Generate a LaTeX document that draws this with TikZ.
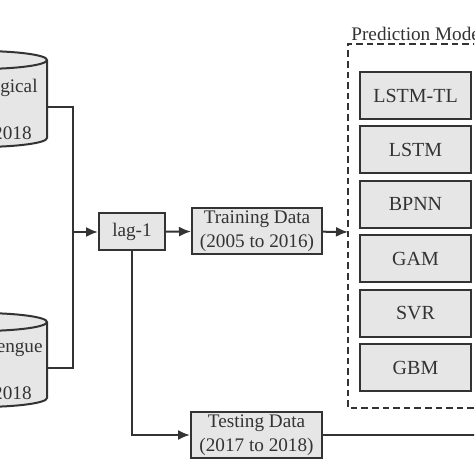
\documentclass[tikz,border=0pt]{standalone}
\usepackage{fontspec}
\setmainfont{Liberation Serif}
\usetikzlibrary{arrows.meta}
\definecolor{boxgray}{HTML}{E6E6E6}
\definecolor{linegray}{HTML}{333333}
\tikzset{
  datbox/.style={draw=linegray, fill=boxgray, line width=1pt, align=center, inner sep=0pt},
  modbox/.style={datbox, minimum width=55.5pt, minimum height=23.5pt, font=\fontsize{10}{12}\selectfont},
  conn/.style={draw=linegray, line width=1pt},
  cut/.style={inner sep=0pt, anchor=base east},
}
\begin{document}
\begin{tikzpicture}[x=0.5pt, y=0.5pt, >={Latex[length=6pt,width=5pt]},
  font=\fontsize{9.6}{12}\selectfont, text=black!80]
\useasboundingbox (0,0) rectangle (474,474);
\clip (0,0) rectangle (474,474);

\draw[conn, fill=boxgray] (-87,414) -- (-87,336) arc (180:360:67 and 9) -- (47,414) arc (0:360:67 and 9);
\draw[conn, fill=boxgray] (-87,152) -- (-87,76) arc (180:360:67 and 9) -- (47,152) arc (0:360:67 and 9);
\node[cut] (met1) at (38,381) {gical};
\node[cut] (met2) at (32,334) {2018};
\node[cut] (den1) at (43,121) {engue};
\node[cut] (den2) at (32,74) {2018};

\coordinate (met) at (47,367);
\coordinate (den) at (47,106);
\coordinate (join) at (73,242);

\node[datbox, minimum width=33pt, minimum height=18.5pt] (lag) at (132,242) {lag-1};
\node[datbox, minimum width=65pt, minimum height=23pt] (train) at (257,243) {Training Data\\(2005 to 2016)};
\node[datbox, minimum width=65.5pt, minimum height=23pt] (test) at (256.5,39) {Testing Data\\(2017 to 2018)};

\draw[conn, dashed, dash pattern=on 3.3pt off 2pt] (490,430) -- (348,430) -- (348,66) -- (490,66);
\node[inner sep=0pt, anchor=base west] (pmtitle) at (351,433) {Prediction Mode};
\coordinate (pm) at (348,242);
\coordinate (out) at (480,39);

\foreach \t [count=\i] in {LSTM-TL,LSTM,BPNN,GAM,SVR,GBM}
{
\node[modbox] (m\i) at (415.5,{378.5-54.4*(\i-1)}) {\t};
}

\draw[conn] (met) -| (join);
\draw[conn] (den) -| (join);
\draw[conn, ->] (join) -- (lag);
\draw[conn, ->] (lag) -- (train);
\draw[conn, ->] (train) -- (pm);
\draw[conn, ->] (lag.south) |- (test.west);
\draw[conn] (test) -- (out);
\end{tikzpicture}
\end{document}
